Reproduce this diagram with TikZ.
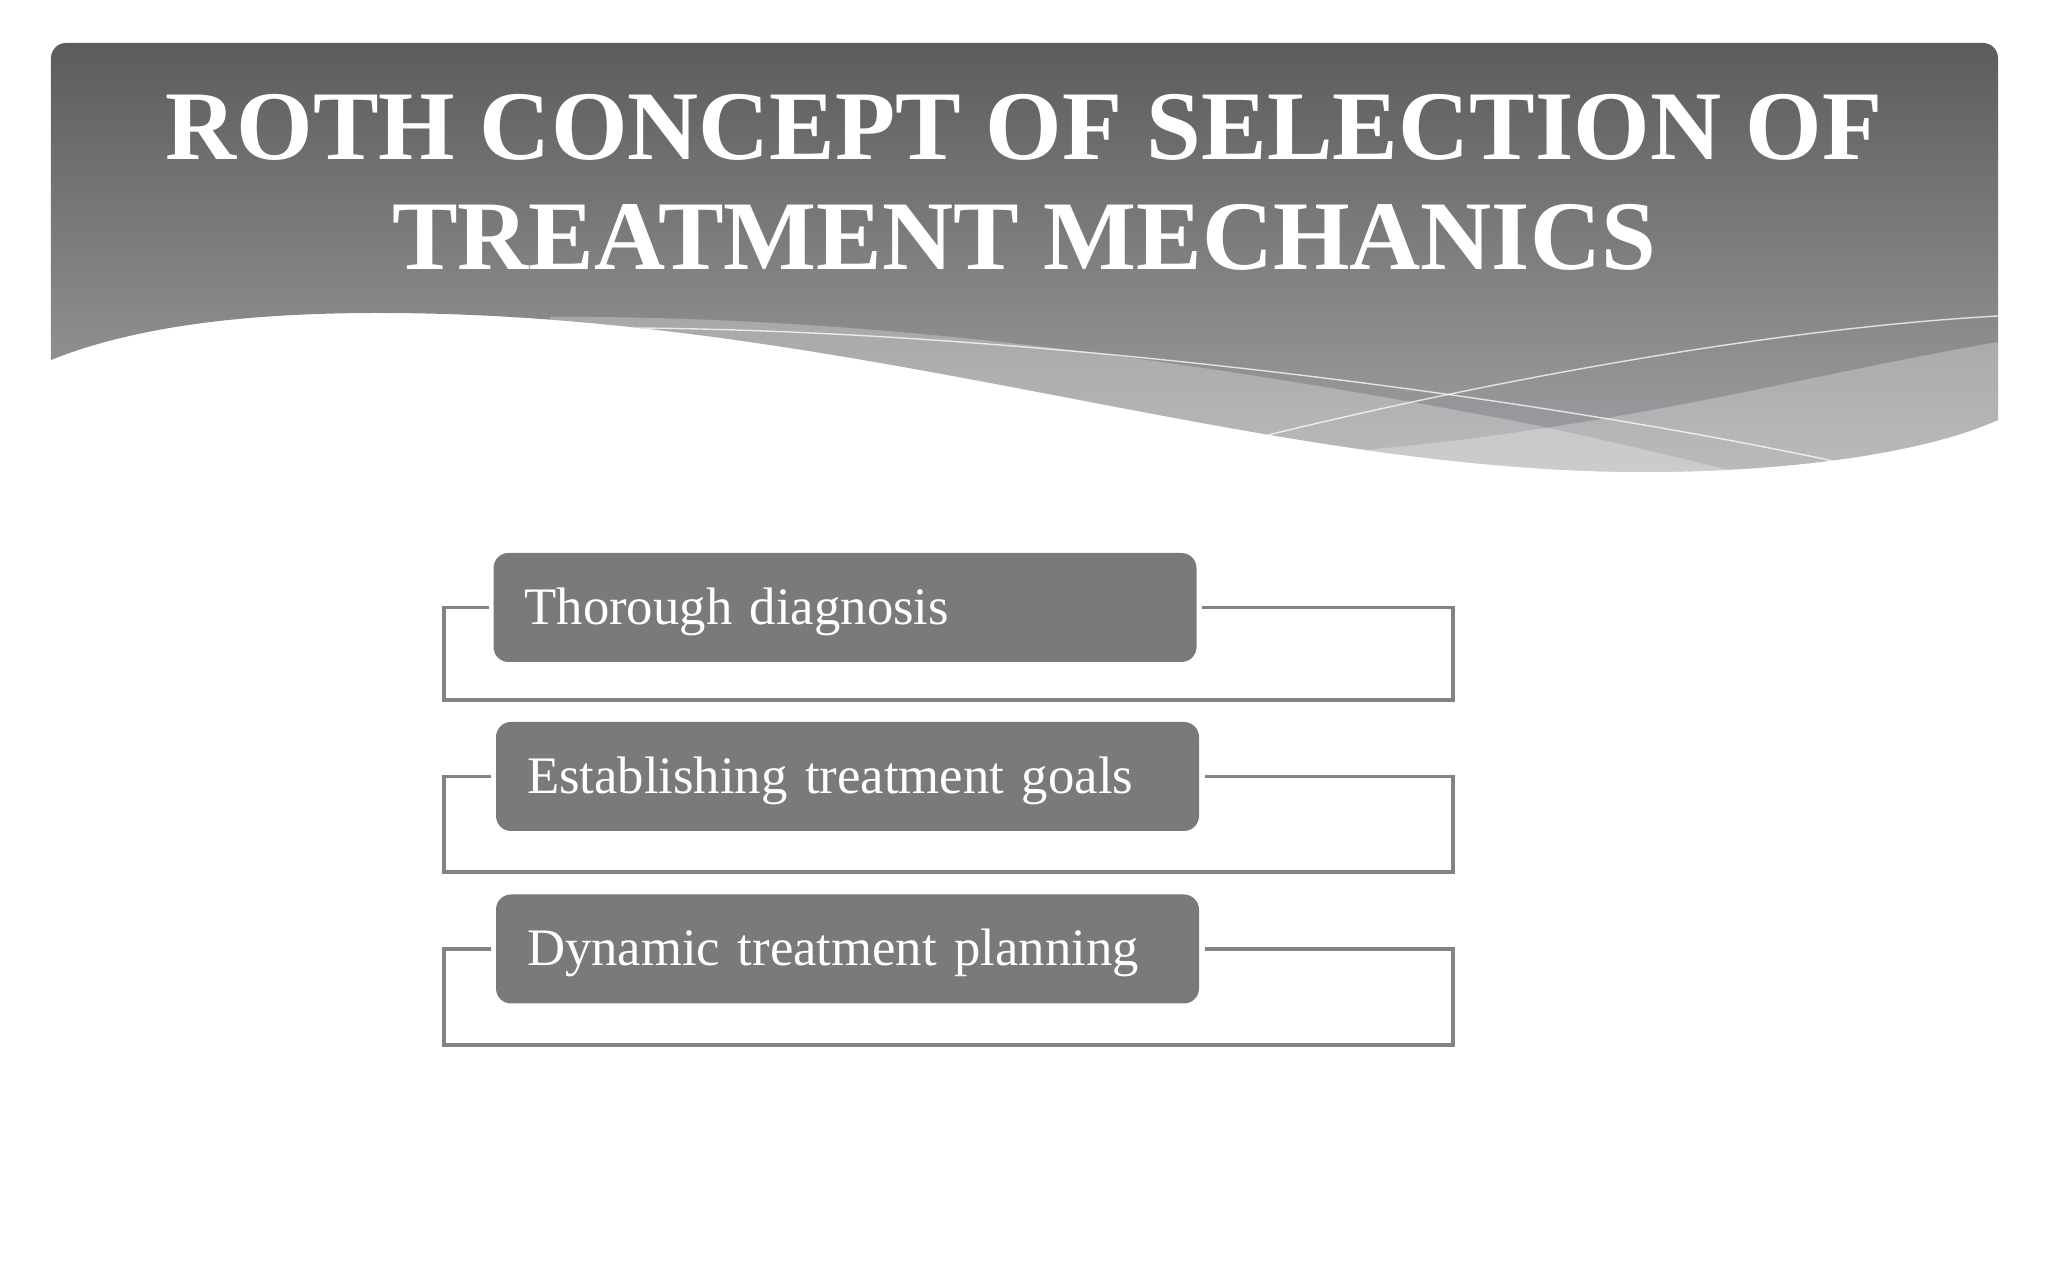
\documentclass[tikz,border=0pt]{standalone}
\usepackage{fontspec}
\setmainfont{Liberation Serif}
\usetikzlibrary{positioning}
\definecolor{hdtop}{HTML}{5C5C5C}
\definecolor{hdbot}{HTML}{A2A2A6}
\definecolor{boxgray}{HTML}{7A7A7C}
\definecolor{linegray}{HTML}{838383}

\begin{document}
\begin{tikzpicture}[
    every node/.style={font=\rmfamily},
    stage/.style={rectangle, rounded corners=0.15cm, fill=boxgray, text=white, minimum width=7.03cm, minimum height=1.09cm, text width=6.41cm, inner xsep=0.31cm, align=left, text height=0.46cm, text depth=0.12cm, font=\fontsize{15}{18}\selectfont},
    bracket/.style={draw=linegray, line width=0.9pt},
    heading/.style={text=white, font=\bfseries\fontsize{28}{32}\selectfont, inner sep=0pt, anchor=base},
    band/.style={fill=white, fill opacity=0.27},
    streak/.style={draw=white, line width=0.4pt, draw opacity=0.75}
]
\fill[white] (0,0) rectangle (20.48,-12.8);
\useasboundingbox (0,0) rectangle (20.48,-12.8);

% Header banner with wave
\begin{scope}
\clip (0.51,-3.60) {[rounded corners=0.15cm] -- (0.51,-0.43) -- (19.98,-0.43) -- (19.98,-2.0)} -- (19.98,-4.20)
    .. controls (19.2,-4.55) and (17.8,-4.72) .. (16.44,-4.72)
    .. controls (12.5,-4.72) and (8.5,-3.13) .. (3.79,-3.13)
    .. controls (2.8,-3.13) and (1.5,-3.20) .. cycle;
\shade[top color=hdtop, bottom color=hdbot] (0.4,-0.43) rectangle (20.1,-4.75);
\fill[band] (5.5,-3.17) .. controls (9.0,-3.15) and (12.5,-3.7) .. (15.35,-4.25)
    .. controls (16.5,-4.5) and (17.5,-4.75) .. (18.5,-5.0) -- (18.5,-6) -- (5.5,-6) -- cycle;
\fill[band] (20.1,-3.40) .. controls (18.0,-3.75) and (16.0,-4.35) .. (13.0,-4.55)
    -- (13.0,-6) -- (20.1,-6) -- cycle;
\draw[streak] (6.3,-3.28) .. controls (10.0,-3.3) and (15.0,-3.9) .. (18.38,-4.62);
\draw[streak] (12.6,-4.37) .. controls (14.5,-3.9) and (17.5,-3.3) .. (19.98,-3.16);
\end{scope}

% Title
\node[heading] (title1) at (10.24,-1.60) {ROTH CONCEPT OF SELECTION OF};
\node[heading] (title2) at (10.24,-2.70) {TREATMENT MECHANICS};

% Steps
\node[stage] (t1) at (8.45,-6.075) {Thorough diagnosis};
\node[stage] (t2) at (8.475,-7.765) {Establishing treatment goals};
\node[stage] (t3) at (8.475,-9.49) {Dynamic treatment planning};

% Frames under each step
\coordinate (l1) at (4.44,-7.00);  \coordinate (r1) at (14.53,-7.00);
\coordinate (l2) at (4.44,-8.72);  \coordinate (r2) at (14.53,-8.72);
\coordinate (l3) at (4.44,-10.45); \coordinate (r3) at (14.53,-10.45);
\draw[bracket] ([xshift=-0.04cm]t1.west) -| (l1) -- (r1) |- ([xshift=0.05cm]t1.east);
\draw[bracket] ([xshift=-0.04cm]t2.west) -| (l2) -- (r2) |- ([xshift=0.05cm]t2.east);
\draw[bracket] ([xshift=-0.04cm]t3.west) -| (l3) -- (r3) |- ([xshift=0.05cm]t3.east);
\end{tikzpicture}
\end{document}
